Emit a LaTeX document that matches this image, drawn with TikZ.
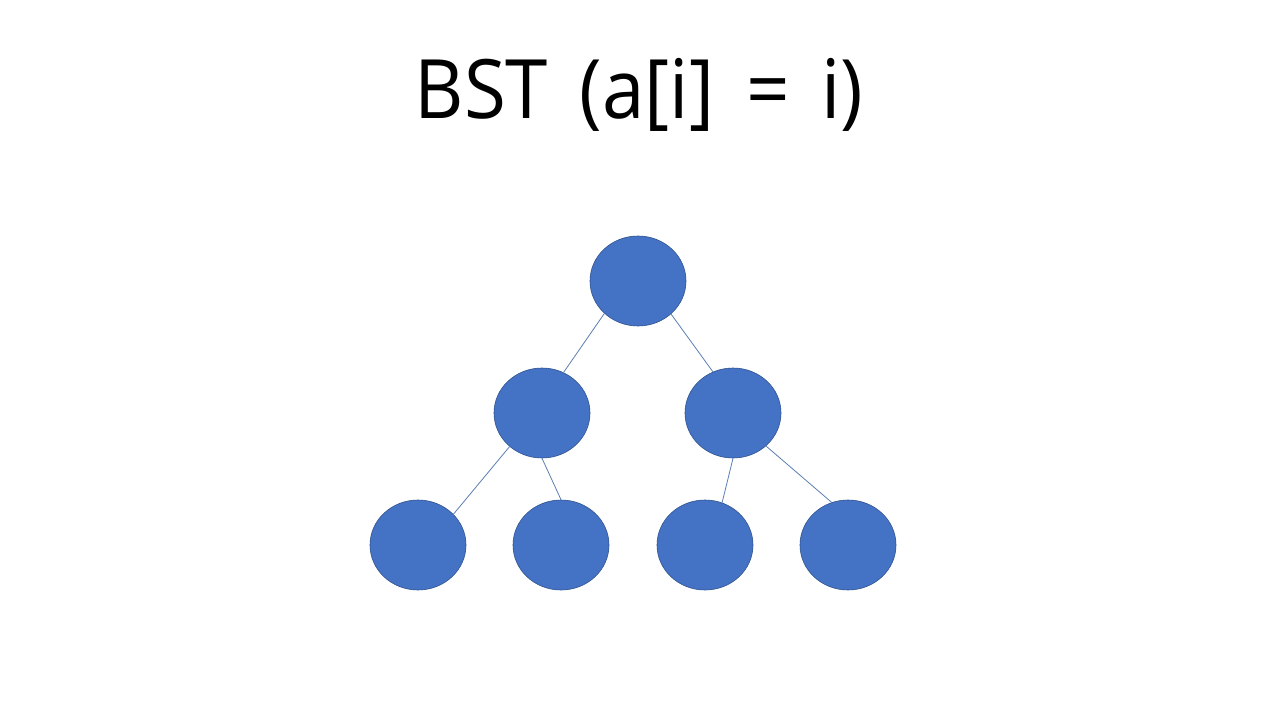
\documentclass[tikz,border=0pt]{standalone}
\usepackage{fontspec}
\setmainfont{Open Sans}
\newfontfamily\titlefont[FakeStretch=0.93]{Open Sans}
\usetikzlibrary{shapes.geometric}
\definecolor{nodefill}{HTML}{4472C4}
\definecolor{nodeline}{HTML}{2F528F}
\definecolor{edgecol}{HTML}{5B7FB3}
\begin{document}
\begin{tikzpicture}[x=1pt,y=-1pt,
  bstnode/.style={ellipse,fill=nodefill,draw=nodeline,line width=0.6pt,minimum width=96pt,minimum height=90pt,inner sep=0pt},
  edge/.style={draw=edgecol,line width=0.8pt}]
\useasboundingbox[fill=white] (0,0) rectangle (1280,720);
\node[font=\titlefont\fontsize{82}{90}\selectfont,anchor=base,inner sep=0pt] (title) at (639,118) {BST\hspace{12pt} (a[i]\hspace{12pt} =\hspace{12pt} i)};
\node[bstnode] (r) at (638,281) {};
\node[bstnode] (l) at (542,413) {};
\node[bstnode] (rr) at (733,413) {};
\node[bstnode] (ll) at (418,545) {};
\node[bstnode] (lr) at (561,545) {};
\node[bstnode] (rl) at (705,545) {};
\node[bstnode] (rrr) at (848,545) {};
\draw[edge] (r.224) -- (l.62);
\draw[edge] (r.315) -- (rr.116);
\draw[edge] (l.226) -- (ll.41);
\draw[edge] (l.270) -- (lr.90);
\draw[edge] (rr.270) -- (rl.68);
\draw[edge] (rr.315) -- (rrr.111);
\end{tikzpicture}
\end{document}
